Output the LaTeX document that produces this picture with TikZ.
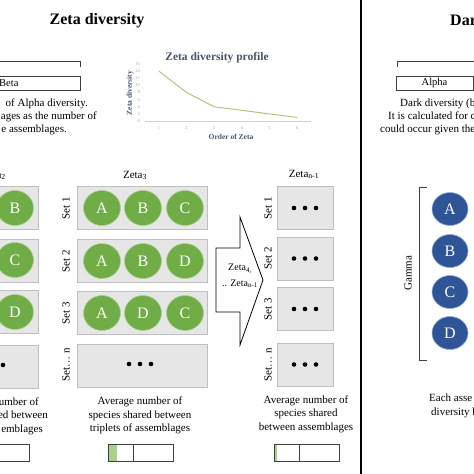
\documentclass[tikz,border=0pt]{standalone}
\usepackage{fontspec}
\setmainfont{Liberation Serif}
\usetikzlibrary{shapes.geometric}

\definecolor{boxgray}{HTML}{E7E6E6}
\definecolor{boxline}{HTML}{BFBFBF}
\definecolor{sppgreen}{HTML}{70AD47}
\definecolor{sppgreenl}{HTML}{A9D18E}
\definecolor{sppblue}{HTML}{2F5597}
\definecolor{sppbluel}{HTML}{8FAADC}
\definecolor{chartblue}{HTML}{44546A}
\definecolor{chartline}{HTML}{BDBD82}
\definecolor{tickgray}{HTML}{A6A6A6}
\definecolor{barline}{HTML}{404040}

\begin{document}
\begin{tikzpicture}[
    x=1pt,
    y=-1pt,
    setbox/.style={draw=boxline, fill=boxgray, line width=0.9pt, minimum height=43pt, inner sep=0pt},
    spp/.style={ellipse, draw=sppgreenl, line width=0.6pt, fill=sppgreen, minimum width=37pt, minimum height=35pt, inner sep=0pt, text=white, font=\fontsize{16}{16}\selectfont},
    dkspp/.style={spp, draw=sppbluel, fill=sppblue, minimum width=36pt, minimum height=33pt},
    sppdot/.style={circle, fill=black, minimum size=4.6pt, inner sep=0pt},
    setlbl/.style={rotate=90, inner sep=0pt, font=\fontsize{11}{11}\selectfont},
    hdr/.style={anchor=base, inner sep=0pt, font=\fontsize{11}{11}\selectfont},
    txt/.style={inner sep=0pt, align=center, font=\fontsize{11}{13.5}\selectfont},
    bar/.style={draw=barline, line width=1pt, minimum height=17pt, inner sep=0pt},
    topbox/.style={draw=barline, line width=1pt, minimum height=14pt, inner sep=0pt, font=\fontsize{10.5}{10.5}\selectfont},
    tick/.style={inner sep=0pt, text=tickgray, font=\fontsize{4.5}{4.5}\selectfont},
    axlbl/.style={inner sep=0pt, text=chartblue, font=\bfseries\fontsize{7.5}{7.5}\selectfont},
    bracket/.style={draw=barline, line width=1pt}
]
\useasboundingbox (0,0) rectangle (474,474);
\clip (0,0) rectangle (474,474);

% ---- Zeta diversity panel
\node[anchor=base, inner sep=0pt, font=\bfseries\fontsize{16}{16}\selectfont] (ztitle) at (97,24) {Zeta diversity};

\draw[bracket] (-5,61) -- (80,61) -- (80,67);
\node[topbox, minimum width=100pt] (betabox) at (30,83) {};
\node[anchor=west, inner sep=0pt, font=\fontsize{10.5}{10.5}\selectfont] (betatxt) at (-1,83) {Beta};

\node[txt, anchor=base east] (zline1) at (88,106) {of Alpha diversity.};
\node[txt, anchor=base east] (zline2) at (97,119.5) {ages as the number of};
\node[txt, anchor=base east] (zline3) at (67,132.5) {e assemblages.};

% profile chart
\node[anchor=base, inner sep=0pt, text=chartblue, font=\bfseries\fontsize{11.5}{11.5}\selectfont] (ctitle) at (217,60) {Zeta diversity profile};
\foreach \v in {0,2,...,16}
  \node[tick, anchor=east] (ytick\v) at (140,121-3.56*\v) {\v};
\foreach \k in {1,...,6}
  \node[tick] (xtick\k) at (159+27.6*\k-27.6,128) {\k};
\draw[tickgray!50, line width=0.4pt] (145,121) -- (311,121);
\draw[chartline, line width=1pt] plot coordinates {(159,71.2) (186.6,92.5) (214.2,106.8) (241.8,110.3) (269.4,113.9) (297,117.4)};
\node[axlbl, rotate=90] (ylbl) at (130,93) {Zeta diversity};
\node[axlbl] (xlbl) at (231,137) {Order of Zeta};

% Zeta_2 column
\node[hdr, anchor=base east] (z2hdr) at (6,178) {Zeta\textsubscript{2}};
\node[setbox, minimum width=100pt] (z2s1) at (-12,207.5) {};
\node[setbox, minimum width=100pt] (z2s2) at (-12,261) {};
\node[setbox, minimum width=100pt] (z2s3) at (-12,311.5) {};
\node[setbox, minimum width=100pt] (z2sn) at (-12,366.5) {};
\node[spp] (z2s1b) at (15,208) {B};
\node[spp] (z2s2c) at (15,260) {C};
\node[spp] (z2s3d) at (15,312) {D};
\node[sppdot] (z2dot) at (3,365) {};
\node[txt, anchor=base east] (z2line1) at (39,405) {umber of};
\node[txt, anchor=base east] (z2line2) at (48,418.5) {ed between};
\node[txt, anchor=base east] (z2line3) at (43,432) {emblages};
\node[bar, minimum width=60pt] (z2bar) at (-1,452.5) {};

% Zeta_3 column
\node[hdr] (z3hdr) at (135,178) {Zeta\textsubscript{3}};
\node[setbox, minimum width=130pt] (z3s1) at (142,207.5) {};
\node[setbox, minimum width=130pt] (z3s2) at (142,261) {};
\node[setbox, minimum width=130pt] (z3s3) at (142,313) {};
\node[setbox, minimum width=130pt] (z3sn) at (142,365.5) {};
\node[spp] (z3s1a) at (102,208) {A};
\node[spp] (z3s1b) at (143,208) {B};
\node[spp] (z3s1c) at (185,208) {C};
\node[spp] (z3s2a) at (102,261) {A};
\node[spp] (z3s2b) at (143,261) {B};
\node[spp] (z3s2d) at (185,261) {D};
\node[spp] (z3s3a) at (102,313) {A};
\node[spp] (z3s3d) at (143,313) {D};
\node[spp] (z3s3c) at (185,313) {C};
\foreach \dx [count=\i] in {129,140,151}
  \node[sppdot] (z3dot\i) at (\dx,364) {};
\node[setlbl] (z3l1) at (66,208) {Set 1};
\node[setlbl] (z3l2) at (66,261) {Set 2};
\node[setlbl] (z3l3) at (66,313) {Set 3};
\node[setlbl] (z3ln) at (66,365) {Set… n};
\node[txt] (z3txt) at (140,415.5) {Average number of\\species shared between\\triplets of assemblages};
\node[bar, minimum width=65pt] (z3bar) at (140.5,452.5) {};
\fill[sppgreenl] (108.5,444.5) rectangle (117,460.5);
\draw[barline, line width=1pt] (133,444) -- (133,461);
\draw[barline, line width=1pt] (108,444) rectangle (173,461);

% block arrow Zeta_4 .. Zeta_n-1
\draw[fill=white, line width=0.8pt] (216,248) -- (240,248) -- (240,217) -- (263,280)
  -- (240,345) -- (240,312) -- (216,312) -- cycle;
\node[txt, font=\fontsize{10}{15.5}\selectfont] (zmid) at (240,276) {Zeta\textsubscript{4,}\\.. Zeta\textsubscript{n-1}};

% Zeta_n-1 column
\node[hdr] (znhdr) at (304,177) {Zeta\textsubscript{n-1}};
\node[setbox, minimum width=56pt] (zns1) at (305,208) {};
\node[setbox, minimum width=56pt] (zns2) at (305,258.5) {};
\node[setbox, minimum width=56pt] (zns3) at (305,309) {};
\node[setbox, minimum width=56pt] (znsn) at (305,364.5) {};
\foreach \r/\yy in {1/208,2/258.5,3/309,n/364.5}
  \foreach \dx [count=\i] in {294,305,316}
    \node[sppdot] (zn\r dot\i) at (\dx,\yy) {};
\node[setlbl] (znl1) at (268,208) {Set 1};
\node[setlbl] (znl2) at (268,258.5) {Set 2};
\node[setlbl] (znl3) at (268,309) {Set 3};
\node[setlbl] (znln) at (268,364.5) {Set… n};
\node[txt] (zntxt) at (306,414) {Average number of\\species shared\\between assemblages};
\draw[barline, line width=1pt] (274,444) rectangle (339,461);
\fill[sppgreenl] (274.5,444.5) rectangle (277,460.5);
\draw[barline, line width=1pt] (299,444) -- (299,461);
\node[inner sep=0pt, minimum width=65pt, minimum height=17pt] (znbar) at (306.5,452.5) {};

% panel divider
\draw[black, line width=2.2pt] (361,-2) -- (361,476);

% ---- Dark diversity panel
\node[anchor=base west, inner sep=0pt, font=\bfseries\fontsize{16}{16}\selectfont] (dtitle) at (450,25) {Dark diversity};
\draw[bracket] (397,67) -- (397,61) -- (480,61);
\node[topbox, minimum width=77pt] (alphabox) at (434.5,83) {Alpha};
\node[topbox, minimum width=77pt] (darkbox) at (511.5,83) {};
\node[txt, anchor=base west] (dline1) at (400,106) {Dark diversity (b-};
\node[txt, anchor=base west] (dline2) at (388,119.5) {It is calculated for c};
\node[txt, anchor=base west] (dline3) at (380,132.5) {could occur given the};

\draw[bracket] (427,187) -- (419,187) -- (419,360) -- (427,360);
\node[setlbl] (gamma) at (408,273) {Gamma};
\node[dkspp] (ga) at (450,209) {A};
\node[dkspp] (gb) at (450,251) {B};
\node[dkspp] (gc) at (450,292) {C};
\node[dkspp] (gd) at (450,333) {D};
\node[txt, anchor=base west] (dline4) at (429,401) {Each asse};
\node[txt, anchor=base west] (dline5) at (431,415) {diversity b};
\end{tikzpicture}
\end{document}
